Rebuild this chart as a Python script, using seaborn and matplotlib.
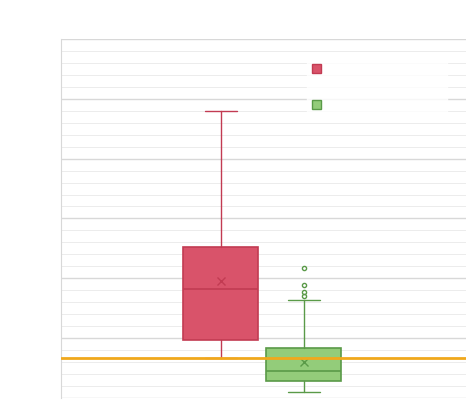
import matplotlib
matplotlib.use("Agg")
import matplotlib.pyplot as plt
import seaborn as sns
from matplotlib.patches import Patch

sns.set_style("white")

groups = ["A", "B"]
colors = ["#d9536a", "#93cc7a"]
edges = ["#c23b52", "#5a9a48"]
whislo = [0.67, 0.10]
q1 = [0.97, 0.28]
med = [1.82, 0.45]
q3 = [2.52, 0.83]
whishi = [4.80, 1.63]
means = [1.95, 0.60]
fliers = [[], [2.18, 1.88, 1.77, 1.70]]
ref_value = 0.67

fig = plt.figure(figsize=(4.74, 4.09), dpi=100)
ax = fig.add_axes([0.1287, 0.0269, 0.854, 0.878])
ax.set_ylim(0, 6)
ax.set_xlim(-1, 1)
for v in [i * 0.2 for i in range(31)]:
    major = abs(v - round(v)) < 1e-6
    ax.axhline(v, color="#d8d8d8" if major else "#ececec", lw=1.0 if major else 0.7, zorder=0)

pos = [-0.21, 0.2]
for i in range(2):
    st = [dict(whislo=whislo[i], q1=q1[i], med=med[i], q3=q3[i], whishi=whishi[i],
               mean=means[i], fliers=fliers[i])]
    ax.bxp(st, positions=[pos[i]], widths=0.37, patch_artist=True, showmeans=True,
           boxprops=dict(facecolor=colors[i], edgecolor=edges[i], lw=1.2),
           medianprops=dict(color=edges[i], lw=1.2),
           whiskerprops=dict(color=edges[i], lw=1),
           capprops=dict(color=edges[i], lw=1), capwidths=0.16,
           meanprops=dict(marker="x", markeredgecolor=edges[i], markersize=6),
           flierprops=dict(marker="o", markerfacecolor="none", markeredgecolor=edges[i], markersize=3),
           zorder=3)
ax.axhline(ref_value, color="#f0a81c", lw=2, zorder=4)

ax.set_xticks([]); ax.set_yticks([])
for s in ["top", "right", "bottom"]:
    ax.spines[s].set_visible(False)
ax.spines["left"].set_color("#d8d8d8")
handles = [Patch(facecolor=colors[i], edgecolor=edges[i]) for i in range(2)]
leg = ax.legend(handles, ["                         ", "                         "],
                loc="upper left", bbox_to_anchor=(0.59, 0.97), frameon=True,
                handlelength=0.6, handleheight=0.6, labelspacing=1.6, fancybox=False)
leg.get_frame().set_edgecolor("white")
fig.savefig("out.png", dpi=100)
